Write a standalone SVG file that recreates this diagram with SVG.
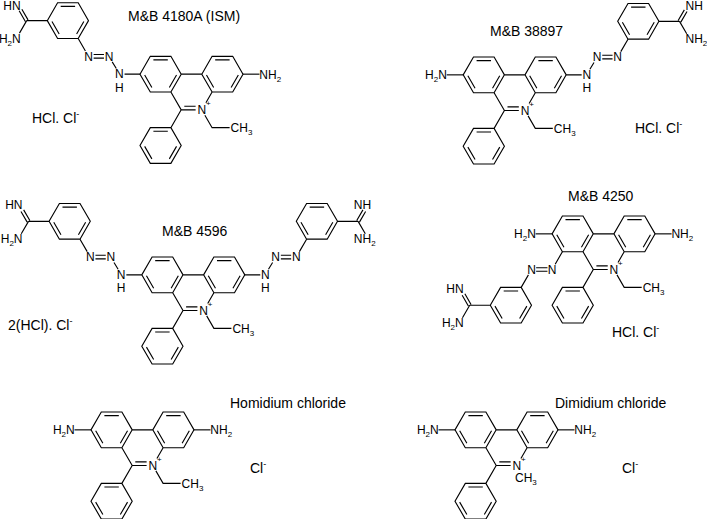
<svg xmlns="http://www.w3.org/2000/svg" xmlns:xlink="http://www.w3.org/1999/xlink" width="707" height="519" viewBox="0 0 707 519">
<style>
.b{fill:none;stroke:#000;stroke-width:1.1;stroke-linecap:butt}
text{font-family:"Liberation Sans",Arial,sans-serif;font-size:12px;fill:#000}
.t{font-size:14px}
.m{text-anchor:middle}
.e{text-anchor:end}
.s{font-size:8px}
</style>
<defs>
<path id="core" class="b" d="M-50,-17.32L-40,-34.64L-20,-34.64L-10,-17.32L-20,0L-40,0Z M-10,-17.32L10,-17.32 M10,-17.32L20,-34.64L40,-34.64L50,-17.32L40,0L20,0Z M-20,0L-10,17.32L4,17.32 M20,0L14,10.4 M-10,17.32L-20,34.64 M-20,34.64L-40,34.64L-50,51.96L-40,69.28L-20,69.28L-10,51.96Z M-37,-31.14L-23,-31.14 M-14.53,-16.47L-21.53,-4.35 M-38.47,-4.35L-45.47,-16.47 M23,-31.14L37,-31.14 M45.47,-16.47L38.47,-4.35 M21.53,-4.35L14.53,-16.47 M-7,13.82L4,13.82 M-37,38.14L-23,38.14 M-45.47,52.81L-38.47,64.93 M-21.53,64.93L-14.53,52.81"/>
<path id="ethyl" class="b" d="M13,22.5L20,34.64L37,34.64"/>
<path id="amring" class="b" d="M20,0L10,17.32L-10,17.32L-20,0L-10,-17.32L10,-17.32Z M-7,-13.82L7,-13.82 M-15.47,0.85L-8.47,12.97 M8.47,12.97L15.47,0.85 M-20,0L-40,0 M-40,0L-47,12.1 M-38.7,-0.75L-44.7,-11.1 M-41.3,0.75L-47.3,-9.6"/>
<g id="amtri"><use xlink:href="#amring" href="#amring"/><path class="b" d="M10,17.32L17,29.4 M25,32.9L35,32.9 M25,36.4L35,36.4 M43,40L47,46.5 M55,51.96L70,51.96"/></g>
<path id="nh2r" class="b" d="M50,-17.32L66,-17.32"/>
<path id="nh2l" class="b" d="M-50,-17.32L-66,-17.32"/>
</defs>

<g id="connectors">
<g transform="translate(191.5,92) scale(1.03)"><use href="#amtri" transform="translate(-120,-69.28)"/><use href="#nh2r"/></g>
<g transform="translate(514.7,92.7) scale(1.03)"><use href="#amtri" transform="translate(120,-69.28) scale(-1,1)"/><use href="#nh2l"/></g>
<g transform="translate(193.3,292.7) scale(1.03)"><use href="#amtri" transform="translate(-120,-69.28)"/><use href="#amtri" transform="translate(120,-69.28) scale(-1,1)"/></g>
<g transform="translate(603.6,251.7) scale(1.03)"><use href="#nh2l"/><use href="#nh2r"/><path class="b" d="M-40,0L-47,12.1 M-54.5,15.6L-65.5,15.6 M-54.5,19L-65.5,19 M-73,22.5L-80,34.64"/><use href="#amring" transform="translate(-90,51.96)"/></g>
<g transform="translate(142.5,447.7) scale(1.03)"><use href="#nh2l"/><use href="#nh2r"/></g>
<g transform="translate(506.5,447.7) scale(1.03)"><use href="#nh2l"/><use href="#nh2r"/></g>
</g>

<g id="mb4180a">
<g transform="translate(191.5,92) scale(1.03)"><use href="#core"/><use href="#ethyl"/></g>
<text x="20.7" y="9.5" class="e">HN</text>
<text x="20.7" y="42.7" class="e">H<tspan class="s" dy="3">2</tspan><tspan dy="-3">N</tspan></text>
<text x="88.5" y="60.6" class="m">N</text><text x="109.1" y="60.6" class="m">N</text>
<text x="119.4" y="78.4" class="m">N</text><text x="119.4" y="91.5" class="m">H</text>
<text x="201.8" y="114.1" class="m">N</text><text x="206" y="105.8" class="s">+</text>
<text x="259.3" y="78.5">NH<tspan class="s" dy="3">2</tspan></text>
<text x="230.6" y="131.9">CH<tspan class="s" dy="3">3</tspan></text>
<text x="128" y="21" class="t">M&amp;B 4180A (ISM)</text>
<text x="32" y="123" class="t">HCl. Cl<tspan font-size="9" dy="-6">-</tspan></text>
</g>

<g id="mb38897">
<g transform="translate(514.7,92.7) scale(1.03)"><use href="#core"/><use href="#ethyl"/></g>
<text x="446.9" y="79.2" class="e">H<tspan class="s" dy="3">2</tspan><tspan dy="-3">N</tspan></text>
<text x="586.8" y="79.2" class="m">N</text><text x="586.8" y="92.3" class="m">H</text>
<text x="617.7" y="61.3" class="m">N</text><text x="597.1" y="61.3" class="m">N</text>
<text x="685.5" y="10">NH</text>
<text x="685.5" y="43.4">NH<tspan class="s" dy="3">2</tspan></text>
<text x="525" y="114.8" class="m">N</text><text x="529.2" y="106.5" class="s">+</text>
<text x="553.8" y="132.6">CH<tspan class="s" dy="3">3</tspan></text>
<text x="490" y="36" class="t">M&amp;B 38897</text>
<text x="635" y="133" class="t">HCl. Cl<tspan font-size="9" dy="-6">-</tspan></text>
</g>

<g id="mb4596">
<g transform="translate(193.3,292.7) scale(1.03)"><use href="#core"/><use href="#ethyl"/></g>
<text x="22.5" y="209" class="e">HN</text>
<text x="22.5" y="243.4" class="e">H<tspan class="s" dy="3">2</tspan><tspan dy="-3">N</tspan></text>
<text x="90.3" y="261.3" class="m">N</text><text x="110.9" y="261.3" class="m">N</text>
<text x="121.2" y="279.1" class="m">N</text><text x="121.2" y="292.3" class="m">H</text>
<text x="296.3" y="261.3" class="m">N</text><text x="275.7" y="261.3" class="m">N</text>
<text x="265.4" y="279.1" class="m">N</text><text x="265.4" y="292.3" class="m">H</text>
<text x="353.8" y="209">NH</text>
<text x="353.8" y="243.4">NH<tspan class="s" dy="3">2</tspan></text>
<text x="203.6" y="314.8" class="m">N</text><text x="207.8" y="306.5" class="s">+</text>
<text x="232.4" y="332.6">CH<tspan class="s" dy="3">3</tspan></text>
<text x="162" y="236" class="t">M&amp;B 4596</text>
<text x="8" y="330" class="t">2(HCl). Cl<tspan font-size="9" dy="-6">-</tspan></text>
</g>

<g id="mb4250">
<g transform="translate(603.6,251.7) scale(1.03)"><use href="#core"/><use href="#ethyl"/></g>
<text x="535.8" y="238.2" class="e">H<tspan class="s" dy="3">2</tspan><tspan dy="-3">N</tspan></text>
<text x="671.4" y="238.2">NH<tspan class="s" dy="3">2</tspan></text>
<text x="552.1" y="273.8" class="m">N</text><text x="531.5" y="273.8" class="m">N</text>
<text x="463.7" y="293" class="e">HN</text>
<text x="463.7" y="327.3" class="e">H<tspan class="s" dy="3">2</tspan><tspan dy="-3">N</tspan></text>
<text x="613.9" y="273.8" class="m">N</text><text x="618.1" y="265.5" class="s">+</text>
<text x="642.7" y="291.6">CH<tspan class="s" dy="3">3</tspan></text>
<text x="568" y="201" class="t">M&amp;B 4250</text>
<text x="612" y="337" class="t">HCl. Cl<tspan font-size="9" dy="-6">-</tspan></text>
</g>

<g id="homidium">
<g transform="translate(142.5,447.7) scale(1.03)"><use href="#core"/><use href="#ethyl"/></g>
<text x="74.7" y="434.2" class="e">H<tspan class="s" dy="3">2</tspan><tspan dy="-3">N</tspan></text>
<text x="210.3" y="434.2">NH<tspan class="s" dy="3">2</tspan></text>
<text x="152.8" y="469.8" class="m">N</text><text x="157" y="461.5" class="s">+</text>
<text x="181.6" y="487.6">CH<tspan class="s" dy="3">3</tspan></text>
<text x="230" y="408" class="t">Homidium chloride</text>
<text x="250" y="473" class="t">Cl<tspan font-size="9" dy="-6">-</tspan></text>
</g>

<g id="dimidium">
<g transform="translate(506.5,447.7) scale(1.03)"><use href="#core"/></g>
<text x="438.7" y="434.2" class="e">H<tspan class="s" dy="3">2</tspan><tspan dy="-3">N</tspan></text>
<text x="574.3" y="434.2">NH<tspan class="s" dy="3">2</tspan></text>
<text x="516.8" y="469.8" class="m">N</text><text x="521" y="461.5" class="s">+</text>
<text x="515" y="482">CH<tspan class="s" dy="3">3</tspan></text>
<text x="555" y="408" class="t">Dimidium chloride</text>
<text x="622" y="473" class="t">Cl<tspan font-size="9" dy="-6">-</tspan></text>
</g>
</svg>
